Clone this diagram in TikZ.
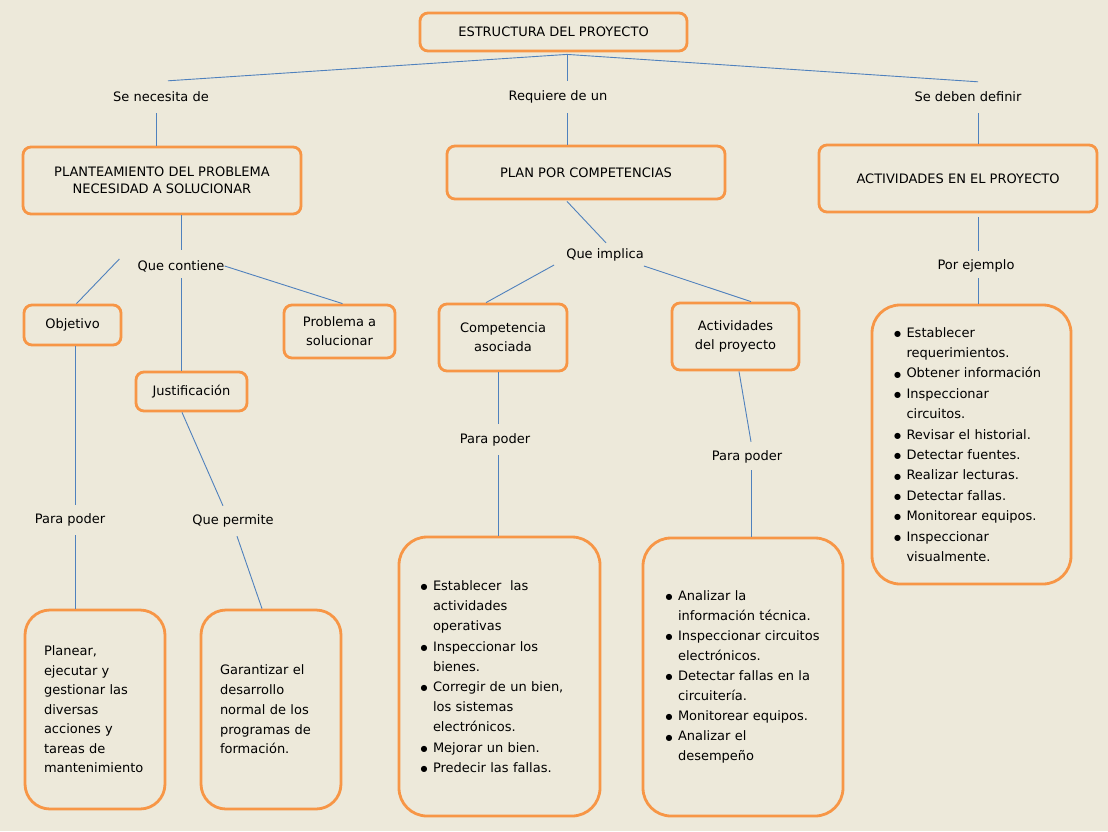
\documentclass[tikz,border=0pt]{standalone}
\usepackage{fontspec}
\setmainfont{DejaVu Sans}
\usetikzlibrary{calc}
\definecolor{bg}{HTML}{EDE9DA}
\definecolor{orng}{HTML}{F79646}
\definecolor{linkc}{HTML}{4F81BD}
\newcommand\bit[1]{\makebox[12.5pt][l]{\raisebox{0.8pt}{\fontsize{8}{8}\selectfont ●}}#1}
\newcommand\cont[1]{\hspace*{12.5pt}#1}
\begin{document}
\begin{tikzpicture}[x=1pt,y=-1pt,
  box/.style={draw=orng, line width=2.8pt, rounded corners=8pt, inner sep=0pt, align=center, font=\fontsize{13}{17}\selectfont},
  box2/.style={box, font=\fontsize{13}{19}\selectfont},
  bigbox/.style={box, rounded corners=28pt, align=left},
  lbl/.style={inner sep=0pt, minimum height=32pt, font=\fontsize{13}{16}\selectfont},
  link/.style={draw=linkc, line width=0.9pt}]
\fill[bg] (0,0) rectangle (1108,831);
\useasboundingbox (0,0) rectangle (1108,831);

% boxes
\node[box, minimum width=267pt, minimum height=38pt] (top) at (553.5,32) {ESTRUCTURA DEL PROYECTO};
\node[box, minimum width=278pt, minimum height=67pt] (pl) at (162,180.5) {PLANTEAMIENTO DEL PROBLEMA\\NECESIDAD A SOLUCIONAR};
\node[box, minimum width=278pt, minimum height=53pt] (plan) at (586,172.5) {PLAN POR COMPETENCIAS};
\node[box, minimum width=278pt, minimum height=67pt] (acts) at (958,178.5) {ACTIVIDADES EN EL PROYECTO};
\node[box, minimum width=97pt, minimum height=40pt] (obj) at (72.5,325) {Objetivo};
\node[box2, minimum width=111pt, minimum height=53pt] (prob) at (339.5,331.5) {Problema a\\solucionar};
\node[box, minimum width=111pt, minimum height=39pt] (just) at (191.5,391.5) {Justificación};
\node[box2, minimum width=128pt, minimum height=67pt] (comp) at (503,337.5) {Competencia\\asociada};
\node[box2, minimum width=127pt, minimum height=67pt] (act) at (735.5,336.5) {Actividades\\del proyecto};

\node[bigbox, rounded corners=25pt, minimum width=140pt, minimum height=199pt, text width=102pt, font=\fontsize{13}{19.5}\selectfont] (b10) at (95,709.5)
 {Planear,\\ejecutar y\\gestionar las\\diversas\\acciones y\\tareas de\\mantenimiento};
\node[bigbox, rounded corners=25pt, minimum width=140pt, minimum height=199pt, text width=102pt, font=\fontsize{13}{19.8}\selectfont] (b11) at (271,709.5)
 {Garantizar el\\desarrollo\\normal de los\\programas de\\formación.};
\node[bigbox, minimum width=201pt, minimum height=279pt, text width=158pt, font=\fontsize{13}{20.2}\selectfont] (b12) at (499.5,676.5)
 {\bit{Establecer\ \ las}\\\cont{actividades}\\\cont{operativas}\\\bit{Inspeccionar los}\\\cont{bienes.}\\\bit{Corregir de un bien,}\\\cont{los sistemas}\\\cont{electrónicos.}\\\bit{Mejorar un bien.}\\\bit{Predecir las fallas.}};
\node[bigbox, minimum width=200pt, minimum height=278pt, text width=155pt, font=\fontsize{13}{20.1}\selectfont] (b13) at (743,677)
 {\bit{Analizar la}\\\cont{información técnica.}\\\bit{Inspeccionar circuitos}\\\cont{electrónicos.}\\\bit{Detectar fallas en la}\\\cont{circuitería.}\\\bit{Monitorear equipos.}\\\bit{Analizar el}\\\cont{desempeño}};
\node[bigbox, minimum width=199pt, minimum height=279pt, text width=155pt, font=\fontsize{13}{20.4}\selectfont] (lst) at (971.5,444.5)
 {\bit{Establecer}\\\cont{requerimientos.}\\\bit{Obtener información}\\\bit{Inspeccionar}\\\cont{circuitos.}\\\bit{Revisar el historial.}\\\bit{Detectar fuentes.}\\\bit{Realizar lecturas.}\\\bit{Detectar fallas.}\\\bit{Monitorear equipos.}\\\bit{Inspeccionar}\\\cont{visualmente.}};

% labels
\node[lbl] (sn) at (161,97) {Se necesita de};
\node[lbl] (rq) at (558,97) {Requiere de un};
\node[lbl] (sd) at (968,97) {Se deben definir};
\node[lbl] (qc) at (181,266) {Que contiene};
\node[lbl] (qi) at (605,255) {Que implica};
\node[lbl] (pe) at (976,266) {Por ejemplo};
\node[lbl] (pp1) at (70,520) {Para poder};
\node[lbl] (qp) at (233,521) {Que permite};
\node[lbl] (pp2) at (495,440) {Para poder};
\node[lbl] (pp3) at (747,457) {Para poder};

% connectors
\coordinate (J) at ($(top.south)+(13.5,2)$);
\draw[link] (J) -- ($(sn.north)+(7,0)$);
\draw[link] (J) -- (J |- rq.north);
\draw[link] (J) -- ($(sd.north)+(10,1)$);
\draw[link] ($(sn.south)+(-5,0)$) coordinate (a1) -- (a1 |- pl.north);
\draw[link] (J |- rq.south) -- (J |- plan.north);
\draw[link] ($(sd.south)+(10,0)$) coordinate (a2) -- (a2 |- acts.north);
\draw[link] (qc.north |- pl.south) -- (qc.north);
\draw[link] ($(qc.west)+(-18,-7)$) -- ($(obj.north)+(4,0)$);
\draw[link] ($(qc.south)+(0,-4)$) coordinate (a3) -- (a3 |- just.north);
\draw[link] (qc.east) -- ($(prob.north)+(3,0)$);
\draw[link] ($(plan.south)+(-19,1)$) -- ($(qi.north)+(1,4)$);
\draw[link] ($(qi.west)+(-12,10)$) -- ($(comp.north)+(-17,0)$);
\draw[link] ($(qi.east)+(0,11)$) -- ($(act.north)+(15.5,0)$);
\draw[link] ($(acts.south)+(20,4)$) -- ($(pe.north)+(2,1)$);
\draw[link] ($(pe.south)+(2,-4)$) coordinate (a4) -- (a4 |- lst.north);
\draw[link] ($(obj.south)+(2.5,0)$) -- ($(pp1.north)+(5,1)$);
\draw[link] ($(pp1.south)+(5,-1)$) coordinate (a5) -- (a5 |- b10.north);
\draw[link] ($(just.south)+(-9.5,0)$) -- ($(qp.north)+(-10,1)$);
\draw[link] ($(qp.south)+(4,-1)$) -- ($(b11.north)+(-9,0)$);
\draw[link] ($(comp.south)+(-5,0)$) coordinate (a6) -- (a6 |- pp2.north);
\draw[link] ($(pp2.south)+(3,-1)$) coordinate (a7) -- (a7 |- b12.north);
\draw[link] ($(act.south)+(3.5,0)$) -- ($(pp3.north)+(4,1)$);
\draw[link] ($(pp3.south)+(4,-3)$) coordinate (a8) -- (a8 |- b13.north);
\end{tikzpicture}
\end{document}
